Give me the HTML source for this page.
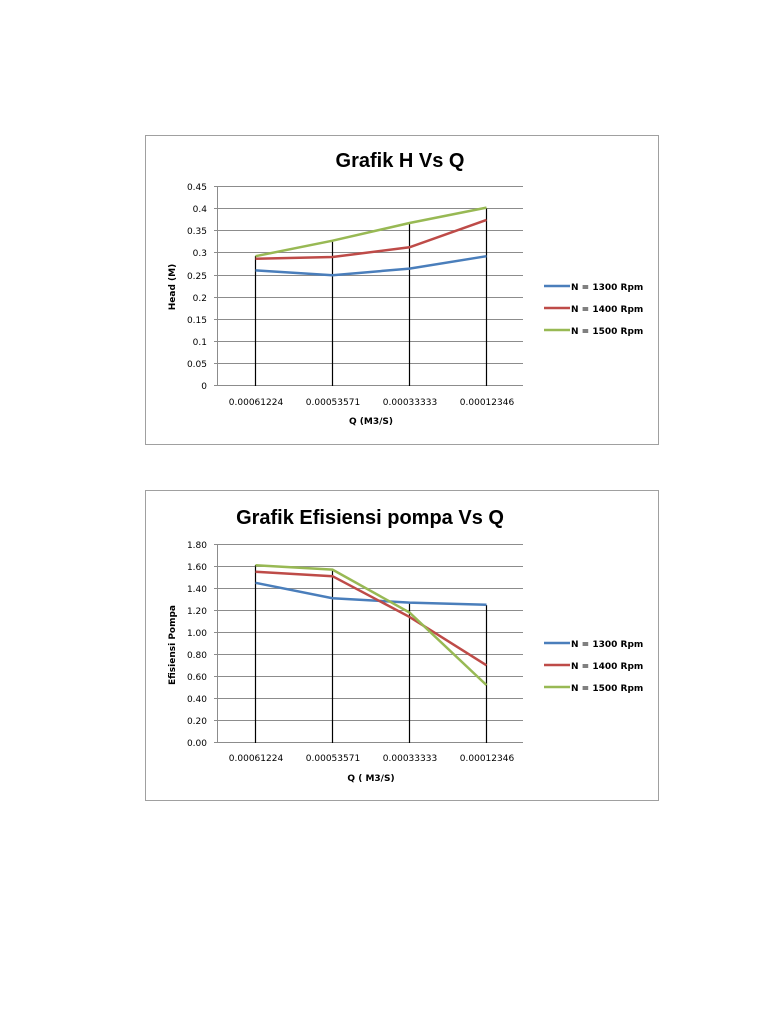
<!DOCTYPE html>
<html><head><meta charset="utf-8"><style>
body{margin:0;background:#fff;}
svg{display:block;font-family:"DejaVu Sans","Liberation Sans",sans-serif;}
.t{font-family:"Liberation Sans","DejaVu Sans",sans-serif;}
</style></head><body>
<svg width="768" height="1024" viewBox="0 0 768 1024">
<rect x="145.5" y="135.5" width="513" height="309" fill="#fff" stroke="#a0a0a0"/>
<text class="t" x="400" y="167" font-size="20" font-weight="bold" text-anchor="middle">Grafik H Vs Q</text>
<g stroke="#8c8c8c" stroke-width="1">
<line x1="214" x2="523" y1="186.5" y2="186.5"/><line x1="214" x2="523" y1="208.5" y2="208.5"/>
<line x1="214" x2="523" y1="230.5" y2="230.5"/><line x1="214" x2="523" y1="252.5" y2="252.5"/>
<line x1="214" x2="523" y1="275.5" y2="275.5"/><line x1="214" x2="523" y1="297.5" y2="297.5"/>
<line x1="214" x2="523" y1="319.5" y2="319.5"/><line x1="214" x2="523" y1="341.5" y2="341.5"/>
<line x1="214" x2="523" y1="363.5" y2="363.5"/><line x1="214" x2="523" y1="385.5" y2="385.5"/>
<line x1="217.5" x2="217.5" y1="186" y2="386"/>
</g>
<g stroke="#000" stroke-width="1.2">
<line x1="255.5" x2="255.5" y1="256" y2="386"/><line x1="332.5" x2="332.5" y1="241" y2="386"/>
<line x1="409.5" x2="409.5" y1="223" y2="386"/><line x1="486.5" x2="486.5" y1="208" y2="386"/>
</g>
<g fill="none" stroke-width="2.5">
<polyline stroke="#4a7ebb" points="255.5,270.4 332.5,275.2 409.5,268.6 486.5,256.2"/>
<polyline stroke="#be4b48" points="255.5,258.8 332.5,257.0 409.5,247.3 486.5,219.9"/>
<polyline stroke="#98b954" points="255.5,256.2 332.5,240.7 409.5,223.0 486.5,207.6"/>
</g>
<g font-size="9" text-anchor="end">
<text x="207" y="190">0.45</text><text x="207" y="212">0.4</text><text x="207" y="234">0.35</text>
<text x="207" y="256">0.3</text><text x="207" y="279">0.25</text><text x="207" y="301">0.2</text>
<text x="207" y="323">0.15</text><text x="207" y="345">0.1</text><text x="207" y="367">0.05</text>
<text x="207" y="389">0</text>
</g>
<g font-size="9" text-anchor="middle">
<text x="256" y="405">0.00061224</text><text x="333" y="405">0.00053571</text>
<text x="410" y="405">0.00033333</text><text x="487" y="405">0.00012346</text>
<text x="371" y="424" font-weight="bold">Q (M3/S)</text>
</g>
<text transform="translate(175,287) rotate(-90)" font-size="9" font-weight="bold" text-anchor="middle">Head (M)</text>
<g font-size="9" font-weight="bold">
<line x1="544" x2="570" y1="286" y2="286" stroke="#4a7ebb" stroke-width="2.5"/><text x="571" y="290">N = 1300 Rpm</text>
<line x1="544" x2="570" y1="308" y2="308" stroke="#be4b48" stroke-width="2.5"/><text x="571" y="312">N = 1400 Rpm</text>
<line x1="544" x2="570" y1="330" y2="330" stroke="#98b954" stroke-width="2.5"/><text x="571" y="334">N = 1500 Rpm</text>
</g>

<rect x="145.5" y="490.5" width="513" height="310" fill="#fff" stroke="#a0a0a0"/>
<text class="t" x="370" y="524" font-size="20" font-weight="bold" text-anchor="middle">Grafik Efisiensi pompa Vs Q</text>
<g stroke="#8c8c8c" stroke-width="1">
<line x1="214" x2="523" y1="544.5" y2="544.5"/><line x1="214" x2="523" y1="566.5" y2="566.5"/>
<line x1="214" x2="523" y1="588.5" y2="588.5"/><line x1="214" x2="523" y1="610.5" y2="610.5"/>
<line x1="214" x2="523" y1="632.5" y2="632.5"/><line x1="214" x2="523" y1="654.5" y2="654.5"/>
<line x1="214" x2="523" y1="676.5" y2="676.5"/><line x1="214" x2="523" y1="698.5" y2="698.5"/>
<line x1="214" x2="523" y1="720.5" y2="720.5"/><line x1="214" x2="523" y1="742.5" y2="742.5"/>
<line x1="217.5" x2="217.5" y1="544" y2="743"/>
</g>
<g stroke="#000" stroke-width="1.2">
<line x1="255.5" x2="255.5" y1="565" y2="743"/><line x1="332.5" x2="332.5" y1="570" y2="743"/>
<line x1="409.5" x2="409.5" y1="602" y2="743"/><line x1="486.5" x2="486.5" y1="605" y2="743"/>
</g>
<g fill="none" stroke-width="2.5">
<polyline stroke="#4a7ebb" points="255.5,582.8 332.5,598.2 409.5,602.6 486.5,604.8"/>
<polyline stroke="#be4b48" points="255.5,571.8 332.5,576.2 409.5,616.9 486.5,665.3"/>
<polyline stroke="#98b954" points="255.5,565.2 332.5,569.6 409.5,612.5 486.5,685.1"/>
</g>
<g font-size="9" text-anchor="end">
<text x="207" y="548">1.80</text><text x="207" y="570">1.60</text><text x="207" y="592">1.40</text>
<text x="207" y="614">1.20</text><text x="207" y="636">1.00</text><text x="207" y="658">0.80</text>
<text x="207" y="680">0.60</text><text x="207" y="702">0.40</text><text x="207" y="724">0.20</text>
<text x="207" y="746">0.00</text>
</g>
<g font-size="9" text-anchor="middle">
<text x="256" y="761">0.00061224</text><text x="333" y="761">0.00053571</text>
<text x="410" y="761">0.00033333</text><text x="487" y="761">0.00012346</text>
<text x="371" y="781" font-weight="bold">Q ( M3/S)</text>
</g>
<text transform="translate(175,645) rotate(-90)" font-size="9" font-weight="bold" text-anchor="middle">Efisiensi Pompa</text>
<g font-size="9" font-weight="bold">
<line x1="544" x2="570" y1="643" y2="643" stroke="#4a7ebb" stroke-width="2.5"/><text x="571" y="647">N = 1300 Rpm</text>
<line x1="544" x2="570" y1="665" y2="665" stroke="#be4b48" stroke-width="2.5"/><text x="571" y="669">N = 1400 Rpm</text>
<line x1="544" x2="570" y1="687" y2="687" stroke="#98b954" stroke-width="2.5"/><text x="571" y="691">N = 1500 Rpm</text>
</g>
</svg>
</body></html>
